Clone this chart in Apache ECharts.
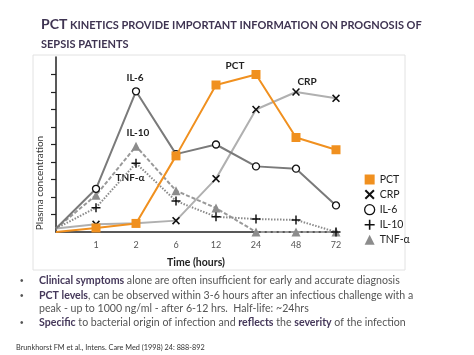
<!DOCTYPE html>
<html><head><meta charset="utf-8">
<script src="https://cdn.jsdelivr.net/npm/echarts@6/dist/echarts.min.js"></script>
<style>html,body{margin:0;padding:0;background:#fff}#c{width:474px;height:355px}</style>
</head><body><div id="c"></div>
<script>
var categories = ['', '1', '2', '6', '12', '24', '48', '72'];
var pct   = [0,    0.23, 0.49, 4.35, 8.4,  9.0,  5.4,  4.7];
var crp   = [0.2,  0.44, 0.5,  0.65, 3.05, 7.0,  8.0,  7.64];
var il6   = [0.2,  2.47, 8.04, 4.45, 5.0,  3.75, 3.62, 1.52];
var il10  = [0.2,  1.39, 3.93, 1.77, 0.87, 0.74, 0.69, 0.0];
var tnf   = [0.2,  2.1,  4.9,  2.36, 1.37, 0.0,  0.0,  0.0];
var yTicks = [1,2,3,4,5,6,7,8,9];

var FONT = 'Lato';
var X_PATH = 'path://M1.4,0 L5,3.6 L8.6,0 L10,1.4 L6.4,5 L10,8.6 L8.6,10 L5,6.4 L1.4,10 L0,8.6 L3.6,5 L0,1.4 Z';
var PLUS_PATH = 'path://M4.2,0 H5.8 V4.2 H10 V5.8 H5.8 V10 H4.2 V5.8 H0 V4.2 H4.2 Z';

function pts(arr){ return arr.map(function(v,i){ return i===0 ? {value:v, symbol:'none'} : v; }); }

var BF = 10.6;
var chart = echarts.init(document.getElementById('c'), null, {renderer:'canvas'});
chart.setOption({
  animation:false,
  textStyle:{fontFamily:FONT},
  grid:{left:56, right:138, top:57, bottom:123, containLabel:false},
  xAxis:{type:'category', data:categories, boundaryGap:false,
    axisLine:{lineStyle:{color:'#222', width:1.5}},
    axisTick:{show:false},
    axisLabel:{color:'#555', fontSize:9, margin:9, fontFamily:FONT},
    name:'Time (hours)', nameLocation:'middle', nameGap:25,
    nameTextStyle:{color:'#222', fontSize:10.5, fontWeight:'bold', fontFamily:FONT},
    splitLine:{show:false}},
  yAxis:{type:'value', min:0, max:10, interval:1,
    axisLine:{show:true, lineStyle:{color:'#222', width:1.5}},
    axisTick:{show:true, inside:false, length:5, customValues:yTicks, lineStyle:{color:'#222', width:1.2}},
    axisLabel:{show:false}, splitLine:{show:false}},
  legend:{orient:'vertical', left:359, top:169, itemWidth:10, itemHeight:10, itemGap:4,
    textStyle:{color:'#222', fontSize:10.5, fontFamily:FONT},
    data:[{name:'PCT', icon:'rect'},{name:'CRP', icon:X_PATH},{name:'IL-6', icon:'circle', itemStyle:{borderWidth:1.3}},
          {name:'IL-10', icon:PLUS_PATH},{name:'TNF-α', icon:'triangle'}]},
  series:[
    {name:'TNF-α', type:'line', data:pts(tnf), z:2, symbol:'triangle', symbolSize:9, showAllSymbol:true,
      lineStyle:{color:'#999', width:2, type:[4,2]}, itemStyle:{color:'#8c8c8c'}},
    {name:'IL-10', type:'line', data:pts(il10), z:3, symbol:PLUS_PATH, symbolSize:9,
      lineStyle:{color:'#8a8a8a', width:2, type:[1.5,1.5]}, itemStyle:{color:'#111'}},
    {name:'CRP', type:'line', data:pts(crp), z:4, symbol:X_PATH, symbolSize:8,
      lineStyle:{color:'#b0b0b0', width:2}, itemStyle:{color:'#111'}},
    {name:'IL-6', type:'line', data:pts(il6), z:5, symbol:'circle', symbolSize:7,
      lineStyle:{color:'#7a7a7a', width:2}, itemStyle:{color:'#fff', borderColor:'#111', borderWidth:1.3}},
    {name:'PCT', type:'line', data:pts(pct), z:6, symbol:'rect', symbolSize:9,
      lineStyle:{color:'#F0901F', width:2}, itemStyle:{color:'#F0901F'}}
  ],
  graphic:[
    {type:'rect', silent:true, z:-10, shape:{x:33, y:55, width:372, height:215},
      style:{fill:'none', stroke:'#e2e2e2', lineWidth:1}},
    {type:'text', left:41, top:17, style:{
      text:'{a|PCT}{b| KINETICS PROVIDE IMPORTANT INFORMATION ON PROGNOSIS OF}',
      rich:{a:{fontSize:14, fontWeight:'bold', fill:'#3f3452', fontFamily:FONT, verticalAlign:'bottom'},
            b:{fontSize:11, fontWeight:'bold', fill:'#3f3452', fontFamily:FONT, verticalAlign:'bottom'}}}},
    {type:'text', left:41, top:39, style:{text:'SEPSIS PATIENTS', fontSize:11, fontWeight:'bold', fill:'#3f3452', fontFamily:FONT}},
    {type:'text', x:40, y:183, rotation:Math.PI/2, style:{text:'Plasma concentration', fontSize:10, fill:'#333', fontFamily:FONT, align:'center', verticalAlign:'middle'}},
    {type:'text', x:135, y:78, style:{text:'IL-6', fontSize:10, fontWeight:'bold', fill:'#222', fontFamily:FONT, align:'center', verticalAlign:'middle'}},
    {type:'text', x:138, y:133, style:{text:'IL-10', fontSize:10, fontWeight:'bold', fill:'#222', fontFamily:FONT, align:'center', verticalAlign:'middle'}},
    {type:'text', x:130, y:178, style:{text:'TNF-α', fontSize:10, fontWeight:'bold', fill:'#222', fontFamily:FONT, align:'center', verticalAlign:'middle'}},
    {type:'text', x:235, y:66, style:{text:'PCT', fontSize:10, fontWeight:'bold', fill:'#222', fontFamily:FONT, align:'center', verticalAlign:'middle'}},
    {type:'text', x:307, y:82, style:{text:'CRP', fontSize:10, fontWeight:'bold', fill:'#222', fontFamily:FONT, align:'center', verticalAlign:'middle'}},
    {type:'text', x:20, y:281, style:{text:'•', fontSize:10, fill:'#555', verticalAlign:'middle'}},
    {type:'text', x:20, y:296, style:{text:'•', fontSize:10, fill:'#555', verticalAlign:'middle'}},
    {type:'text', x:20, y:323, style:{text:'•', fontSize:10, fill:'#555', verticalAlign:'middle'}},
    {type:'text', x:39, y:281, style:{verticalAlign:'middle',
      text:'{b|Clinical symptoms}{n| alone are often insufficient for early and accurate diagnosis}',
      rich:{b:{fontSize:BF, fontWeight:'bold', fill:'#45385a', fontFamily:FONT}, n:{fontSize:BF, fill:'#555', fontFamily:FONT}}}},
    {type:'text', x:39, y:296, style:{verticalAlign:'middle',
      text:'{b|PCT levels}{n|, can be observed within 3-6 hours after an infectious challenge with a}',
      rich:{b:{fontSize:BF, fontWeight:'bold', fill:'#45385a', fontFamily:FONT}, n:{fontSize:BF, fill:'#555', fontFamily:FONT}}}},
    {type:'text', x:39, y:309, style:{verticalAlign:'middle',
      text:'{n|peak - up to 1000 ng/ml - after 6-12 hrs.  Half-life: ~24hrs}',
      rich:{n:{fontSize:BF, fill:'#555', fontFamily:FONT}}}},
    {type:'text', x:39, y:323, style:{verticalAlign:'middle',
      text:'{b|Specific}{n| to bacterial origin of infection and }{b|reflects}{n| the }{b|severity}{n| of the infection}',
      rich:{b:{fontSize:BF, fontWeight:'bold', fill:'#45385a', fontFamily:FONT}, n:{fontSize:BF, fill:'#555', fontFamily:FONT}}}},
    {type:'text', x:16, y:348, style:{text:'Brunkhorst FM et al., Intens. Care Med (1998) 24: 888-892', fontSize:7.3, fill:'#333', fontFamily:FONT, verticalAlign:'middle'}}
  ]
});
</script></body></html>
